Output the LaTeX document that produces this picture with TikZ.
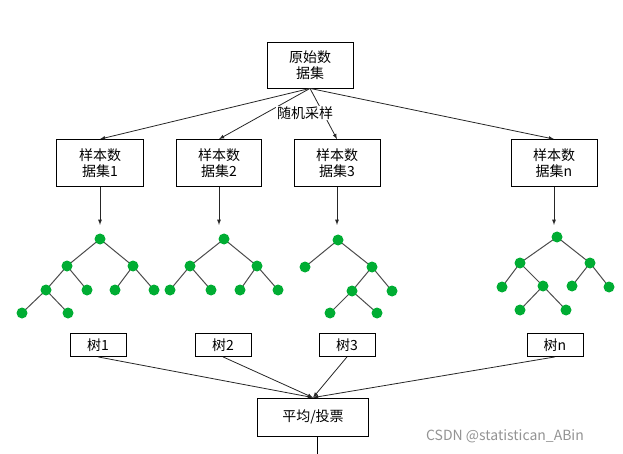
\documentclass[tikz,border=0pt]{standalone}
\usepackage{fontspec}
\setmainfont{Noto Sans CJK SC}
\begin{document}
\begin{tikzpicture}[x=1pt,y=-1pt,
  box/.style={draw,thick,fill=white,align=center,font=\fontsize{14}{16}\selectfont,inner sep=2pt},
  dot/.style={circle,fill=green!60!black!80!cyan,draw=none,minimum size=11pt,inner sep=0pt},
  edge/.style={draw=gray!60!black,line width=1pt},
  arr/.style={->,>=latex,line width=0.8pt,draw=black!85}]
\useasboundingbox (0,0) rectangle (623,454);
\node[box,minimum width=86pt,minimum height=46pt] (top) at (310,65) {原始数\\据集};
\foreach \n/\x/\w/\t in {s1/100/87/1,s2/219/85/2,s3/337/86/3,sn/554/86/n}{
  \node[box,minimum width=\w pt,minimum height=47pt] (\n) at (\x,163) {样本数\\据集\t};
}
\foreach \n in {s1,s2,s3,sn}{\draw[arr] (top.south) -- (\n.north);}
\node[font=\fontsize{14}{16}\selectfont,fill=white,inner sep=1pt] (lab) at (305,113) {随机采样};
\begin{scope}
\foreach \n/\x/\y in {a0/100/239,a1/67/266,a2/133/266,a3/46/290,a4/87/290,a5/115/290,a6/154/290,a7/22/313,a8/68/313,
 b0/224/239,b1/190/266,b2/257/266,b3/170/290,b4/211/290,b5/240/290,b6/278/290,
 c0/338/240,c1/305/267,c2/372/267,c3/352/291,c4/392/291,c5/330/313,c6/377/313,
 d0/557/237,d1/520/263,d2/590/263,d3/502/287,d4/543/286,d5/572/286,d6/609/287,d7/520/310,d8/566/310}
  \coordinate (\n) at (\x,\y);
\foreach \p/\c in {a0/a1,a0/a2,a1/a3,a1/a4,a2/a5,a2/a6,a3/a7,a3/a8,
 b0/b1,b0/b2,b1/b3,b1/b4,b2/b5,b2/b6,
 c0/c1,c0/c2,c2/c3,c2/c4,c3/c5,c3/c6,
 d0/d1,d0/d2,d1/d3,d1/d4,d2/d5,d2/d6,d4/d7,d4/d8}
  \draw[edge] (\p) -- (\c);
\foreach \n in {a0,a1,a2,a3,a4,a5,a6,a7,a8,b0,b1,b2,b3,b4,b5,b6,c0,c1,c2,c3,c4,c5,c6,d0,d1,d2,d3,d4,d5,d6,d7,d8}
  \node[dot] at (\n) {};
\end{scope}
\foreach \n in {s1,s2,s3,sn}{\draw[arr] (\n.south) -- ++(0,38);}
\foreach \n/\x/\t in {t1/98/树1,t2/223/树2,t3/347/树3,tn/555/树n}{
  \node[box,minimum width=56pt,minimum height=23pt] (\n) at (\x,345) {\t};
}
\node[box,minimum width=111pt,minimum height=38pt] (avg) at (313,417) {平均/投票};
\foreach \n in {t1,t2,t3,tn}{\draw[arr] (\n.south) -- (avg.north);}
\coordinate (end) at (317,460);
\draw[thick] (avg.south -| end) -- (end);
\node[font=\fontsize{14}{16}\selectfont,text=gray!85] (wm) at (505,436) {CSDN @statistican\_ABin};
\end{tikzpicture}
\end{document}
